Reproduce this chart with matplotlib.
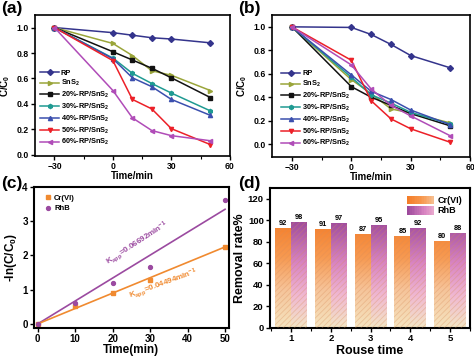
import numpy as np
import matplotlib
matplotlib.use("Agg")
import matplotlib.pyplot as plt
from matplotlib.colors import LinearSegmentedColormap
from matplotlib.legend_handler import HandlerBase
from matplotlib.patches import Rectangle
from matplotlib.ticker import MultipleLocator

plt.rcParams["font.family"] = ["Liberation Sans", "DejaVu Sans"]
plt.rcParams["font.weight"] = "bold"
plt.rcParams["axes.labelweight"] = "bold"
plt.rcParams["mathtext.fontset"] = "custom"
plt.rcParams["mathtext.rm"] = "Liberation Sans:bold"
plt.rcParams["mathtext.it"] = "Liberation Sans:bold"
plt.rcParams["mathtext.bf"] = "Liberation Sans:bold"
plt.rcParams["mathtext.default"] = "rm"
plt.rcParams["hatch.linewidth"] = 0.6

# --- data ---------------------------------------------------------------
time = [-30, 0, 10, 20, 30, 50]
series_names = ["RP", "SnS$_2$", "20%-RP/SnS$_2$", "30%-RP/SnS$_2$",
                "40%-RP/SnS$_2$", "50%-RP/SnS$_2$", "60%-RP/SnS$_2$"]

a_rp = [1.0, 0.96, 0.94, 0.92, 0.91, 0.88]
a_sns2 = [1.0, 0.875, 0.78, 0.66, 0.625, 0.505]
a_20 = [1.0, 0.81, 0.745, 0.68, 0.605, 0.45]
a_30 = [1.0, 0.76, 0.64, 0.56, 0.485, 0.345]
a_40 = [1.0, 0.755, 0.605, 0.535, 0.435, 0.31]
a_50 = [1.0, 0.74, 0.435, 0.36, 0.205, 0.08]
a_60 = [1.0, 0.505, 0.29, 0.19, 0.15, 0.11]

b_rp = [1.0, 0.995, 0.935, 0.85, 0.755, 0.65]
b_sns2 = [1.0, 0.55, 0.43, 0.30, 0.265, 0.18]
b_20 = [1.0, 0.49, 0.40, 0.33, 0.26, 0.155]
b_30 = [1.0, 0.57, 0.42, 0.35, 0.27, 0.17]
b_40 = [1.0, 0.59, 0.45, 0.38, 0.29, 0.165]
b_50 = [1.0, 0.715, 0.37, 0.215, 0.13, 0.015]
b_60 = [1.0, 0.675, 0.47, 0.33, 0.24, 0.07]

kin_time = [0, 10, 20, 30, 50]
kin_cr = [0.0, 0.52, 0.90, 1.28, 2.25]
kin_rhb = [0.0, 0.60, 1.18, 1.67, 3.62]
k_cr = 0.04494
k_rhb = 0.06692

reuse = [1, 2, 3, 4, 5]
removal_cr = [92, 91, 87, 85, 80]
removal_rhb = [98, 97, 95, 92, 88]

colors = ["#34348c", "#9aa53a", "#111111", "#1f9a92", "#3b4fae", "#ec2028", "#b04cb8"]
markers = ["D", ">", "s", "h", "^", "v", "<"]
c_cr = "#f08a30"
c_rhb = "#9b4aa0"

fig = plt.figure(figsize=(4.74, 3.6), dpi=100)


def style(ax, lw=1.2, size=6.2):
    for s in ax.spines.values():
        s.set_linewidth(lw)
    ax.tick_params(direction="out", width=1.0, length=3, labelsize=size, pad=1.5)
    ax.tick_params(which="minor", direction="out", width=0.8, length=2)


def decay_panel(ax, data, ylim, legend_anchor):
    for y, name, c, m in zip(data, series_names, colors, markers):
        ax.plot(time, y, color=c, marker=m, ms=3.0, lw=1.1, label=name)
    ax.set_xlim(-40, 60)
    ax.set_ylim(*ylim)
    ax.set_xticks([-30, 0, 30, 60])
    ax.xaxis.set_minor_locator(MultipleLocator(15))
    ax.set_yticks(np.arange(0, 1.01, 0.2))
    ax.set_yticklabels([f"{v:.1f}" for v in np.arange(0, 1.01, 0.2)])
    ax.set_xlabel("Time/min", fontsize=7, labelpad=0)
    ax.set_ylabel("C/C$_0$", fontsize=7, labelpad=3)
    ax.legend(loc="lower left", bbox_to_anchor=legend_anchor, frameon=False,
              fontsize=5.3, labelspacing=0.22, handlelength=2.5, handletextpad=0.3,
              borderaxespad=0, borderpad=0.2)
    style(ax)


ax_a = fig.add_axes([0.0738, 0.5667, 0.411, 0.392])
decay_panel(ax_a, [a_rp, a_sns2, a_20, a_30, a_40, a_50, a_60], (-0.01, 1.1), (0.02, 0.05))

ax_b = fig.add_axes([0.574, 0.564, 0.418, 0.394])
decay_panel(ax_b, [b_rp, b_sns2, b_20, b_30, b_40, b_50, b_60], (-0.11, 1.1), (0.04, 0.05))

# --- (c) kinetics ---------------------------------------------------------
ax_c = fig.add_axes([0.0717, 0.0889, 0.411, 0.392])
fit_t = np.array([0, 50])
ax_c.plot(fit_t, k_rhb * fit_t, color=c_rhb, lw=1.2)
ax_c.plot(fit_t, k_cr * fit_t, color=c_cr, lw=1.2)
ax_c.plot(kin_time, kin_cr, "s", color=c_cr, ms=2.8, label="Cr(VI)")
ax_c.plot(kin_time, kin_rhb, "o", color=c_rhb, ms=2.8, label="RhB")
ax_c.set_xlim(-1, 51)
ax_c.set_ylim(-0.12, 4)
ax_c.set_xticks(range(0, 51, 10))
ax_c.set_yticks(range(0, 5))
ax_c.set_xlabel("Time(min)", fontsize=8.5, labelpad=0)
ax_c.set_ylabel("-ln(C/C$_0$)", fontsize=8.5, labelpad=2)
ax_c.text(18.8, 1.72, "K$_{app}$=0.06692min$^{-1}$", color=c_rhb, fontsize=5.8,
          rotation=33, rotation_mode="anchor")
ax_c.text(24.0, 0.98, "K$_{app}$=0.04494min$^{-1}$", color=c_cr, fontsize=5.8,
          rotation=20, rotation_mode="anchor", va="top")
ax_c.legend(loc="upper left", bbox_to_anchor=(0.04, 0.97), frameon=False, fontsize=5.5,
            handlelength=0.8, handletextpad=0.4, labelspacing=0.45, borderaxespad=0)
style(ax_c, lw=1.5, size=7)

# --- (d) reuse bars -------------------------------------------------------
ax_d = fig.add_axes([0.5696, 0.0889, 0.422, 0.389])
cr_cmap = LinearSegmentedColormap.from_list(
    "cr", [(0, "#f5e4c0"), (0.35, "#f6c49a"), (0.65, "#f79a52"), (1, "#f47d28")])
rhb_cmap = LinearSegmentedColormap.from_list(
    "rhb", [(0, "#f3e6c6"), (0.3, "#f0b8d2"), (0.6, "#d985c2"), (1, "#9d4a9c")])
bw = 0.4


def gradient_bar(ax, x, h, cmap):
    grad = np.linspace(h, 0, 200).reshape(-1, 1) / 100.0
    ax.imshow(grad, extent=[x - bw / 2, x + bw / 2, 0, h], cmap=cmap, vmin=0, vmax=1,
              aspect="auto", zorder=2, interpolation="bilinear")
    ax.bar(x, h, bw, facecolor="none", edgecolor=(0.85, 0.55, 0.35, 0.35),
           hatch="//////", linewidth=0, zorder=3)
    ax.text(x, h + 1.5, f"{h}", ha="center", va="bottom", fontsize=5.3, zorder=4)


for x, hc, hr in zip(reuse, removal_cr, removal_rhb):
    gradient_bar(ax_d, x - bw / 2, hc, cr_cmap)
    gradient_bar(ax_d, x + bw / 2, hr, rhb_cmap)


class GradientHandler(HandlerBase):
    def __init__(self, cmap):
        super().__init__()
        self.cmap = cmap

    def create_artists(self, legend, orig_handle, xdescent, ydescent, width, height,
                       fontsize, trans):
        n = 16
        arts = []
        for i in range(n):
            arts.append(Rectangle((-xdescent + i * width / n, -ydescent), width / n + 0.3,
                                  height, facecolor=self.cmap(1 - 0.6 * i / (n - 1)),
                                  edgecolor="none", transform=trans))
        return arts


h_cr = Rectangle((0, 0), 1, 1)
h_rhb = Rectangle((0, 0), 1, 1, facecolor="purple")
ax_d.legend([h_cr, h_rhb], ["Cr(VI)", "RhB"], loc="upper right",
            bbox_to_anchor=(0.98, 0.97), frameon=False, fontsize=6.5,
            handler_map={h_cr: GradientHandler(cr_cmap), h_rhb: GradientHandler(rhb_cmap)},
            handlelength=3.0, handleheight=1.1, handletextpad=0.4, labelspacing=0.1,
            borderaxespad=0)
ax_d.set_xlim(0.47, 5.5)
ax_d.set_ylim(0, 130)
ax_d.set_xticks(reuse)
ax_d.xaxis.set_minor_locator(MultipleLocator(0.5))
ax_d.set_yticks(range(0, 121, 20))
ax_d.set_xlabel("Rouse time", fontsize=9, labelpad=1)
ax_d.set_ylabel("Removal rate%", fontsize=9, labelpad=1)
style(ax_d, lw=1.5, size=6.8)

# --- panel letters --------------------------------------------------------
for x, y, t in [(0.002, 0.998, "(a)"), (0.503, 0.998, "(b)"),
                (0.002, 0.51, "(c)"), (0.503, 0.51, "(d)")]:
    fig.text(x, y, t, fontsize=12.5, va="top", ha="left")

fig.savefig("out.png", dpi=100)
